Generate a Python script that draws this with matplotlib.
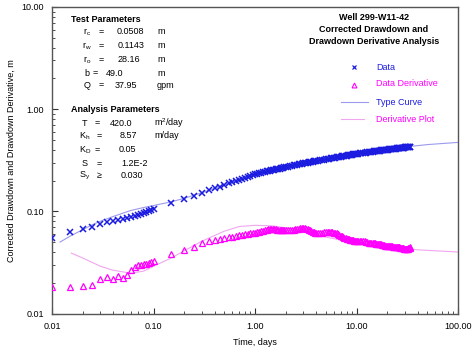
import matplotlib
matplotlib.use("Agg")
import matplotlib.pyplot as plt

plt.rcParams['font.family'] = ['Liberation Sans', 'DejaVu Sans']
plt.rcParams['mathtext.default'] = 'regular'

# time, days
t_data = [0.010, 0.015, 0.020, 0.025, 0.030, 0.035, 0.040, 0.045, 0.050, 0.055,
          0.060, 0.065, 0.070, 0.075, 0.080, 0.085, 0.090, 0.095, 0.100,
          0.15, 0.20, 0.25, 0.30, 0.35, 0.40, 0.45, 0.50, 0.55, 0.60, 0.65,
          0.70, 0.75, 0.80, 0.85, 0.90, 0.95, 1.0,
          1.05, 1.10, 1.15, 1.20, 1.25, 1.30, 1.35, 1.40, 1.45, 1.50,
          1.55, 1.60, 1.65, 1.70, 1.75, 1.80, 1.85, 1.90, 1.95, 2.00,
          2.1, 2.2, 2.3, 2.4, 2.5, 2.6, 2.7, 2.8, 2.9, 3.0,
          3.1, 3.2, 3.3, 3.4, 3.5, 3.6, 3.7, 3.8, 3.9, 4.0,
          4.2, 4.4, 4.6, 4.8, 5.0, 5.2, 5.4, 5.6, 5.8, 6.0,
          6.2, 6.4, 6.6, 6.8, 7.0, 7.2, 7.4, 7.6, 7.8, 8.0,
          8.2, 8.4, 8.6, 8.8, 9.0, 9.2, 9.4, 9.6, 9.8, 10.0,
          10.4, 10.8, 11.2, 11.6, 12.0, 12.4, 12.8, 13.2, 13.6, 14.0,
          14.4, 14.8, 15.2, 15.6, 16.0, 16.4, 16.8, 17.2, 17.6, 18.0,
          18.4, 18.8, 19.2, 19.6, 20.0,
          20.5, 21.0, 21.5, 22.0, 22.5, 23.0, 23.5, 24.0, 24.5, 25.0,
          25.5, 26.0, 26.5, 27.0, 27.5, 28.0, 28.5, 29.0, 29.5, 30.0,
          30.5, 31.0, 31.5, 32.0, 32.5, 33.0, 33.5, 34.0]

# corrected drawdown, m
s_data = [0.055, 0.063, 0.067, 0.071, 0.076, 0.078, 0.080, 0.083, 0.085, 0.087,
          0.089, 0.091, 0.093, 0.095, 0.097, 0.099, 0.101, 0.103, 0.105,
          0.120, 0.133, 0.142, 0.152, 0.160, 0.168, 0.175, 0.182, 0.188, 0.194, 0.199,
          0.204, 0.209, 0.214, 0.219, 0.223, 0.228, 0.232,
          0.2345, 0.2370, 0.2392, 0.2415, 0.2437, 0.2458, 0.2478, 0.2498, 0.2517, 0.2536,
          0.2554, 0.2572, 0.2589, 0.2606, 0.2623, 0.2639, 0.2655, 0.2671, 0.2686, 0.2701,
          0.2730, 0.2758, 0.2785, 0.2811, 0.2836, 0.2861, 0.2885, 0.2908, 0.2931, 0.2953,
          0.2967, 0.2984, 0.3001, 0.3017, 0.3032, 0.3048, 0.3063, 0.3078, 0.3092, 0.3106,
          0.3133, 0.3159, 0.3185, 0.3209, 0.3233, 0.3256, 0.3278, 0.3299, 0.3320, 0.3341,
          0.3361, 0.3380, 0.3399, 0.3417, 0.3435, 0.3453, 0.3470, 0.3486, 0.3503, 0.3519,
          0.3534, 0.3550, 0.3565, 0.3580, 0.3594, 0.3608, 0.3622, 0.3636, 0.3650, 0.3663,
          0.3679, 0.3697, 0.3714, 0.3731, 0.3748, 0.3764, 0.3780, 0.3795, 0.3810, 0.3824,
          0.3838, 0.3852, 0.3865, 0.3878, 0.3891, 0.3904, 0.3916, 0.3928, 0.3940, 0.3951,
          0.3962, 0.3973, 0.3984, 0.3995, 0.4005,
          0.4018, 0.4031, 0.4043, 0.4055, 0.4067, 0.4079, 0.4090, 0.4101, 0.4112, 0.4123,
          0.4134, 0.4144, 0.4154, 0.4164, 0.4174, 0.4184, 0.4193, 0.4203, 0.4212, 0.4221,
          0.4230, 0.4239, 0.4248, 0.4256, 0.4265, 0.4273, 0.4281, 0.4289]

# drawdown derivative, m
d_data = [0.0182, 0.0180, 0.0186, 0.0188, 0.0218, 0.0226, 0.0220, 0.0233, 0.0223, 0.0240,
          0.0267, 0.0282, 0.0297, 0.0300, 0.0302, 0.0305, 0.0315, 0.0318, 0.0330,
          0.0383, 0.0417, 0.0446, 0.0494, 0.0517, 0.0520, 0.0540, 0.0550, 0.0560, 0.0565, 0.0575,
          0.0585, 0.0590, 0.0600, 0.0605, 0.0610, 0.0615, 0.0620,
          0.0625, 0.0630, 0.0637, 0.0645, 0.0652, 0.0660, 0.0665, 0.0670, 0.0672, 0.0673,
          0.0670, 0.0668, 0.0664, 0.0660, 0.0657, 0.0655, 0.0653, 0.0652, 0.0652, 0.0652,
          0.0653, 0.0655, 0.0657, 0.0660, 0.0666, 0.0672, 0.0677, 0.0682, 0.0684, 0.0684,
          0.0680, 0.0675, 0.0670, 0.0660, 0.0650, 0.0640, 0.0632, 0.0623, 0.0615, 0.0613,
          0.0610, 0.0613, 0.0618, 0.0623, 0.0628, 0.0629, 0.0630, 0.0628, 0.0624, 0.0620,
          0.0614, 0.0608, 0.0600, 0.0590, 0.0580, 0.0570, 0.0560, 0.0551, 0.0544, 0.0537,
          0.0534, 0.0531, 0.0528, 0.0525, 0.0522, 0.0520, 0.0518, 0.0517, 0.0515, 0.0514,
          0.0515, 0.0515, 0.0514, 0.0511, 0.0508, 0.0503, 0.0498, 0.0494, 0.0492, 0.0490,
          0.0489, 0.0488, 0.0486, 0.0482, 0.0478, 0.0480, 0.0482, 0.0480, 0.0476, 0.0472,
          0.0468, 0.0464, 0.0461, 0.0460, 0.0459,
          0.0458, 0.0457, 0.0456, 0.0455, 0.0453, 0.0451, 0.0450, 0.0448, 0.0447, 0.0447,
          0.0446, 0.0446, 0.0444, 0.0442, 0.0441, 0.0440, 0.0437, 0.0434, 0.0431, 0.0429,
          0.0429, 0.0430, 0.0431, 0.0432, 0.0434, 0.0437, 0.0441, 0.0445]

# type curve
t_type = [0.012, 0.015, 0.02, 0.025, 0.03, 0.04, 0.05, 0.06, 0.08, 0.1, 0.15, 0.2,
          0.3, 0.5, 1.0, 2.0, 3.0, 5.0, 10, 20, 34, 50, 100]
s_type = [0.050, 0.057, 0.066, 0.074, 0.080, 0.089, 0.096, 0.102, 0.109, 0.114, 0.124, 0.134,
          0.152, 0.182, 0.232, 0.272, 0.297, 0.325, 0.366, 0.403, 0.432, 0.450, 0.473]

# derivative plot
t_dplot = [0.0155, 0.02, 0.03, 0.04, 0.06, 0.08, 0.1, 0.15, 0.2, 0.3, 0.5, 0.7,
           1.0, 1.5, 2.0, 3.0, 5.0, 8.0, 10, 20, 40, 100]
s_dplot = [0.039, 0.035, 0.029, 0.0265, 0.0248, 0.026, 0.029, 0.035, 0.041, 0.051, 0.064, 0.071,
           0.073, 0.072, 0.069, 0.064, 0.056, 0.051, 0.049, 0.045, 0.042, 0.040]

x_ticks = [0.01, 0.1, 1, 10, 100]
x_labels = ["0.01", "0.10", "1.00", "10.00", "100.00"]
y_ticks = [0.01, 0.1, 1, 10]
y_labels = ["0.01", "0.10", "1.00", "10.00"]

BLUE = '#1c1ce0'
MAG = '#ff00ff'
LBLUE = '#9a9aee'
LMAG = '#f0a6f0'

W, H = 474, 349
fig = plt.figure(figsize=(W / 100, H / 100), dpi=100)
ax = fig.add_axes([52 / W, 1 - 313.5 / H, 406 / W, 306.5 / H])

ax.plot(t_type, s_type, color=LBLUE, lw=0.8, zorder=1)
ax.plot(t_dplot, s_dplot, color=LMAG, lw=0.8, zorder=1)
ax.plot(t_data, s_data, 'x', color=BLUE, ms=5, mew=1.1, zorder=3)
ax.plot(t_data, d_data, '^', color=MAG, mfc='none', ms=5, mew=0.9, zorder=3)

ax.set_xscale('log')
ax.set_yscale('log')
ax.set_xlim(0.01, 100)
ax.set_ylim(0.01, 10)
ax.set_xticks(x_ticks)
ax.set_xticklabels(x_labels)
ax.set_yticks(y_ticks)
ax.set_yticklabels(y_labels)
ax.tick_params(which='both', direction='in', labelsize=6.5, color='#333333')
ax.tick_params(which='major', length=4, pad=6)
ax.tick_params(which='minor', length=2.5)
for sp in ax.spines.values():
    sp.set_color('#555555')
    sp.set_linewidth(1.0)

ax.set_xlabel("Time, days", fontsize=6.5, labelpad=5)
ax.set_ylabel("Corrected Drawdown and Drawdown Derivative, m", fontsize=6.5, labelpad=4)


def px(x, y):
    return x / W, 1 - y / H


def txt(x, y, s, **kw):
    kw.setdefault('fontsize', 6.5)
    kw.setdefault('va', 'center')
    fig.text(*px(x, y), s, **kw)


# parameter block
txt(71, 19, "Test Parameters", fontweight='bold')
rows = [
    (32, "r$_c$", "=", 117, "0.0508", "m"),
    (46, "r$_w$", "=", 118, "0.1143", "m"),
    (60, "r$_o$", "=", 118, "28.16", "m"),
    (73, "b", "=", 106, "49.0", "m"),
    (85, "Q", "=", 115, "37.95", "gpm"),
]
for y, lab, eq, vx, val, unit in rows:
    txt(87, y, lab, ha='center')
    txt(101 if lab != "b" else 95, y, eq, ha='center')
    txt(vx, y, val)
    txt(157, y, unit)

txt(71, 110, "Analysis Parameters", fontweight='bold')
rows2 = [
    (123, "T", "=", 97, 110, "420.0", "m$^2$/day"),
    (136, "K$_h$", "=", 99, 120, "8.57", "m/day"),
    (150, "K$_D$", "=", 97, 119, "0.05", ""),
    (164, "S", "=", 99, 121, "1.2E-2", ""),
    (176, "S$_y$", "\u2265", 99, 121, "0.030", ""),
]
for y, lab, eq, ex, vx, val, unit in rows2:
    txt(85, y, lab, ha='center')
    txt(ex, y, eq, ha='center')
    txt(vx, y, val)
    if unit:
        txt(154, y, unit)

# title block
txt(374, 18, "Well 299-W11-42", ha='center', fontweight='bold')
txt(374, 30, "Corrected Drawdown and", ha='center', fontweight='bold')
txt(374, 42, "Drawdown Derivative Analysis", ha='center', fontweight='bold')

# legend
tr = fig.transFigure
x0, y0 = px(354, 67)
fig.lines.append(plt.Line2D([x0], [y0], marker='x', color=BLUE, ms=3.5, mew=0.9, transform=tr))
x0, y0 = px(354, 85)
fig.lines.append(plt.Line2D([x0], [y0], marker='^', color=MAG, mfc='none', ms=3.5, mew=0.8, transform=tr))
xa, ya = px(341, 102)
xb, _ = px(368, 102)
fig.lines.append(plt.Line2D([xa, xb], [ya, ya], color=LBLUE, lw=0.8, transform=tr))
xa, ya = px(341, 119)
xb, _ = px(364, 119)
fig.lines.append(plt.Line2D([xa, xb], [ya, ya], color=LMAG, lw=0.8, transform=tr))
txt(376, 67, "Data", color=BLUE)
txt(376, 84, "Data Derivative", color=MAG)
txt(376, 102, "Type Curve", color=BLUE)
txt(376, 119, "Derivative Plot", color=MAG)

fig.savefig("out.png", dpi=100)
